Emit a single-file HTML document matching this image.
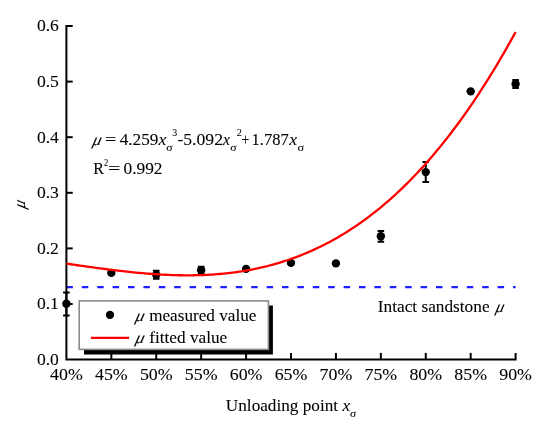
<!DOCTYPE html>
<html><head><meta charset="utf-8"><style>
html,body{margin:0;padding:0;background:#fff;}
body{width:550px;height:428px;overflow:hidden;}
svg{display:block;}
text{font-family:"Liberation Serif","Times New Roman",serif;fill:#000;stroke:#000;stroke-width:0.08px;}
</style></head><body>
<svg width="550" height="428" viewBox="0 0 550 428">
<rect width="550" height="428" fill="#fff"/>
<line x1="66.4" y1="287.2" x2="515.6" y2="287.2" stroke="#1f1fff" stroke-width="2.2" stroke-dasharray="6.5 8.9"/>
<path d="M66.4,25 V359.6 H515.6 V352.9" fill="none" stroke="#000" stroke-width="2.0"/>
<line x1="66.4" y1="304.00" x2="72.7" y2="304.00" stroke="#000" stroke-width="2.0"/>
<line x1="66.4" y1="248.40" x2="72.7" y2="248.40" stroke="#000" stroke-width="2.0"/>
<line x1="66.4" y1="192.80" x2="72.7" y2="192.80" stroke="#000" stroke-width="2.0"/>
<line x1="66.4" y1="137.20" x2="72.7" y2="137.20" stroke="#000" stroke-width="2.0"/>
<line x1="66.4" y1="81.60" x2="72.7" y2="81.60" stroke="#000" stroke-width="2.0"/>
<line x1="66.4" y1="26.00" x2="72.7" y2="26.00" stroke="#000" stroke-width="2.0"/>
<line x1="111.32" y1="359.6" x2="111.32" y2="352.9" stroke="#000" stroke-width="2.0"/>
<line x1="156.24" y1="359.6" x2="156.24" y2="352.9" stroke="#000" stroke-width="2.0"/>
<line x1="201.16" y1="359.6" x2="201.16" y2="352.9" stroke="#000" stroke-width="2.0"/>
<line x1="246.08" y1="359.6" x2="246.08" y2="352.9" stroke="#000" stroke-width="2.0"/>
<line x1="291.00" y1="359.6" x2="291.00" y2="352.9" stroke="#000" stroke-width="2.0"/>
<line x1="335.92" y1="359.6" x2="335.92" y2="352.9" stroke="#000" stroke-width="2.0"/>
<line x1="380.84" y1="359.6" x2="380.84" y2="352.9" stroke="#000" stroke-width="2.0"/>
<line x1="425.76" y1="359.6" x2="425.76" y2="352.9" stroke="#000" stroke-width="2.0"/>
<line x1="470.68" y1="359.6" x2="470.68" y2="352.9" stroke="#000" stroke-width="2.0"/>
<path d="M66.40,292.5 V315.4 M63.10,292.5 H69.70 M63.10,315.4 H69.70" stroke="#000" stroke-width="2.0" fill="none"/>
<circle cx="66.40" cy="303.8" r="4.2" fill="#000"/>
<circle cx="111.32" cy="272.9" r="4.2" fill="#000"/>
<path d="M156.24,270.8 V278.7 M152.94,270.8 H159.54 M152.94,278.7 H159.54" stroke="#000" stroke-width="2.0" fill="none"/>
<circle cx="156.24" cy="274.75" r="4.2" fill="#000"/>
<path d="M201.16,266.8 V273.6 M197.86,266.8 H204.46 M197.86,273.6 H204.46" stroke="#000" stroke-width="2.0" fill="none"/>
<circle cx="201.16" cy="270.2" r="4.2" fill="#000"/>
<circle cx="246.08" cy="268.9" r="4.2" fill="#000"/>
<circle cx="291.00" cy="262.9" r="4.2" fill="#000"/>
<circle cx="335.92" cy="263.4" r="4.2" fill="#000"/>
<path d="M380.84,231.0 V241.8 M377.54,231.0 H384.14 M377.54,241.8 H384.14" stroke="#000" stroke-width="2.0" fill="none"/>
<circle cx="380.84" cy="236.3" r="4.2" fill="#000"/>
<path d="M425.76,161.9 V182.0 M422.46,161.9 H429.06 M422.46,182.0 H429.06" stroke="#000" stroke-width="2.0" fill="none"/>
<circle cx="425.76" cy="172.1" r="4.2" fill="#000"/>
<circle cx="470.68" cy="91.35" r="4.2" fill="#000"/>
<path d="M515.60,79.9 V88.0 M512.30,79.9 H518.90 M512.30,88.0 H518.90" stroke="#000" stroke-width="2.0" fill="none"/>
<circle cx="515.60" cy="83.95" r="4.2" fill="#000"/>
<polyline points="66.40,263.60 68.65,263.93 70.89,264.26 73.14,264.58 75.38,264.91 77.63,265.24 79.88,265.56 82.12,265.88 84.37,266.20 86.61,266.52 88.86,266.84 91.11,267.15 93.35,267.46 95.60,267.77 97.84,268.08 100.09,268.38 102.34,268.68 104.58,268.97 106.83,269.26 109.07,269.55 111.32,269.84 113.57,270.11 115.81,270.39 118.06,270.66 120.30,270.92 122.55,271.18 124.80,271.43 127.04,271.68 129.29,271.92 131.53,272.15 133.78,272.38 136.03,272.60 138.27,272.82 140.52,273.02 142.76,273.22 145.01,273.41 147.26,273.60 149.50,273.77 151.75,273.94 153.99,274.10 156.24,274.25 158.49,274.39 160.73,274.53 162.98,274.65 165.22,274.76 167.47,274.87 169.72,274.96 171.96,275.04 174.21,275.11 176.45,275.18 178.70,275.23 180.95,275.27 183.19,275.30 185.44,275.31 187.68,275.32 189.93,275.31 192.18,275.29 194.42,275.26 196.67,275.22 198.91,275.16 201.16,275.09 203.41,275.00 205.65,274.91 207.90,274.79 210.14,274.67 212.39,274.53 214.64,274.38 216.88,274.21 219.13,274.02 221.37,273.82 223.62,273.61 225.87,273.38 228.11,273.14 230.36,272.87 232.60,272.60 234.85,272.30 237.10,271.99 239.34,271.66 241.59,271.32 243.83,270.96 246.08,270.58 248.33,270.18 250.57,269.76 252.82,269.33 255.06,268.88 257.31,268.41 259.56,267.92 261.80,267.41 264.05,266.88 266.29,266.33 268.54,265.76 270.79,265.18 273.03,264.57 275.28,263.94 277.52,263.29 279.77,262.62 282.02,261.93 284.26,261.22 286.51,260.48 288.75,259.73 291.00,258.95 293.25,258.15 295.49,257.33 297.74,256.48 299.98,255.62 302.23,254.73 304.48,253.81 306.72,252.87 308.97,251.91 311.21,250.93 313.46,249.92 315.71,248.88 317.95,247.82 320.20,246.74 322.44,245.63 324.69,244.50 326.94,243.34 329.18,242.15 331.43,240.94 333.67,239.70 335.92,238.44 338.17,237.15 340.41,235.83 342.66,234.49 344.90,233.11 347.15,231.71 349.40,230.29 351.64,228.83 353.89,227.35 356.13,225.84 358.38,224.30 360.63,222.73 362.87,221.13 365.12,219.50 367.36,217.84 369.61,216.16 371.86,214.44 374.10,212.69 376.35,210.91 378.59,209.11 380.84,207.27 383.09,205.40 385.33,203.49 387.58,201.56 389.82,199.60 392.07,197.60 394.32,195.57 396.56,193.51 398.81,191.41 401.05,189.29 403.30,187.13 405.55,184.93 407.79,182.71 410.04,180.45 412.28,178.15 414.53,175.82 416.78,173.46 419.02,171.06 421.27,168.63 423.51,166.16 425.76,163.66 428.01,161.12 430.25,158.54 432.50,155.93 434.74,153.28 436.99,150.60 439.24,147.88 441.48,145.12 443.73,142.33 445.97,139.50 448.22,136.63 450.47,133.72 452.71,130.78 454.96,127.80 457.20,124.77 459.45,121.71 461.70,118.61 463.94,115.48 466.19,112.30 468.43,109.08 470.68,105.83 472.93,102.53 475.17,99.19 477.42,95.81 479.66,92.40 481.91,88.94 484.16,85.44 486.40,81.90 488.65,78.31 490.89,74.69 493.14,71.02 495.39,67.31 497.63,63.56 499.88,59.77 502.12,55.93 504.37,52.05 506.62,48.13 508.86,44.16 511.11,40.15 513.35,36.09 515.60,31.99" fill="none" stroke="#ff0000" stroke-width="2.3" stroke-linejoin="round"/>
<text transform="translate(58.9,364.90) scale(1.0,1)" text-anchor="end" font-size="17.6">0.0</text>
<text transform="translate(58.9,309.30) scale(1.0,1)" text-anchor="end" font-size="17.6">0.1</text>
<text transform="translate(58.9,253.70) scale(1.0,1)" text-anchor="end" font-size="17.6">0.2</text>
<text transform="translate(58.9,198.10) scale(1.0,1)" text-anchor="end" font-size="17.6">0.3</text>
<text transform="translate(58.9,142.50) scale(1.0,1)" text-anchor="end" font-size="17.6">0.4</text>
<text transform="translate(58.9,86.90) scale(1.0,1)" text-anchor="end" font-size="17.6">0.5</text>
<text transform="translate(58.9,31.30) scale(1.0,1)" text-anchor="end" font-size="17.6">0.6</text>
<text transform="translate(66.40,380) scale(1.015,1)" text-anchor="middle" font-size="17.6">40%</text>
<text transform="translate(111.32,380) scale(1.015,1)" text-anchor="middle" font-size="17.6">45%</text>
<text transform="translate(156.24,380) scale(1.015,1)" text-anchor="middle" font-size="17.6">50%</text>
<text transform="translate(201.16,380) scale(1.015,1)" text-anchor="middle" font-size="17.6">55%</text>
<text transform="translate(246.08,380) scale(1.015,1)" text-anchor="middle" font-size="17.6">60%</text>
<text transform="translate(291.00,380) scale(1.015,1)" text-anchor="middle" font-size="17.6">65%</text>
<text transform="translate(335.92,380) scale(1.015,1)" text-anchor="middle" font-size="17.6">70%</text>
<text transform="translate(380.84,380) scale(1.015,1)" text-anchor="middle" font-size="17.6">75%</text>
<text transform="translate(425.76,380) scale(1.015,1)" text-anchor="middle" font-size="17.6">80%</text>
<text transform="translate(470.68,380) scale(1.015,1)" text-anchor="middle" font-size="17.6">85%</text>
<text transform="translate(515.60,380) scale(1.015,1)" text-anchor="middle" font-size="17.6">90%</text>
<rect x="84" y="305.5" width="188.9" height="49" fill="#000"/>
<rect x="79.2" y="300.9" width="189.2" height="48.5" fill="#fff" stroke="#8a8a8a" stroke-width="1.6"/>
<circle cx="110" cy="314.9" r="4.2" fill="#000"/>
<line x1="90.9" y1="337.8" x2="129.1" y2="337.8" stroke="#ff0000" stroke-width="2.2"/>
<text transform="translate(134.78,320.50) skewX(-14) scale(1.0753,1)" font-size="16.2" font-style="italic">μ</text>
<text transform="translate(149.14,320.50) scale(0.9820,1)" font-size="17.5">measured value</text>
<text transform="translate(134.78,343.40) skewX(-14) scale(1.0753,1)" font-size="16.2" font-style="italic">μ</text>
<text transform="translate(149.17,343.40) scale(0.9864,1)" font-size="17.5">fitted value</text>
<text transform="translate(377.78,311.60) scale(0.9764,1)" font-size="17.7">Intact sandstone</text>
<text transform="translate(494.89,311.60) skewX(-14) scale(1.0012,1)" font-size="16.3" font-style="italic">μ</text>
<text transform="translate(225.84,410.80) scale(1.0124,1)" font-size="17">Unloading point <tspan font-style="italic">x</tspan></text>
<text transform="translate(349.96,417.10) scale(1.1300,1)" font-size="10.2">σ</text>
<text transform="translate(25.2,209.08) rotate(-90) skewX(-14) scale(0.9202,1)" font-size="17" font-style="italic">μ</text>
<text transform="translate(92.09,144.60) skewX(-14) scale(1.0404,1)" font-size="16.3" font-style="italic">μ</text>
<text transform="translate(105.00,144.60) scale(1.1756,1)" font-size="17.0">=</text>
<text transform="translate(119.66,144.60) scale(1.0129,1)" font-size="17.0">4.259</text>
<text transform="translate(158.51,144.60) scale(1.0356,1)" font-size="17.0"><tspan font-style="italic">x</tspan></text>
<text transform="translate(166.15,150.90) scale(1.1370,1)" font-size="10.5">σ</text>
<text transform="translate(172.33,135.80) scale(1.0448,1)" font-size="9.5">3</text>
<text transform="translate(177.56,144.60) scale(1.0190,1)" font-size="17.0">-</text>
<text transform="translate(183.27,144.60) scale(1.0406,1)" font-size="17.0">5.092</text>
<text transform="translate(222.99,144.60) scale(0.9176,1)" font-size="17.0"><tspan font-style="italic">x</tspan></text>
<text transform="translate(230.15,150.90) scale(1.1370,1)" font-size="10.5">σ</text>
<text transform="translate(236.75,135.80) scale(1.0766,1)" font-size="9.5">2</text>
<text transform="translate(241.40,144.60) scale(0.8217,1)" font-size="17.0">+</text>
<text transform="translate(251.55,144.60) scale(0.9706,1)" font-size="17.0">1.787</text>
<text transform="translate(289.21,144.60) scale(1.0356,1)" font-size="17.0"><tspan font-style="italic">x</tspan></text>
<text transform="translate(297.53,150.90) scale(1.1762,1)" font-size="10.5">σ</text>
<text transform="translate(93.34,174.00) scale(0.9423,1)" font-size="17.0">R</text>
<text transform="translate(103.93,166.40) scale(0.8928,1)" font-size="9.5">2</text>
<text transform="translate(108.01,174.00) scale(1.2894,1)" font-size="17.0">=</text>
<text transform="translate(123.44,174.00) scale(1.0228,1)" font-size="17.0">0.992</text>
</svg>
</body></html>
